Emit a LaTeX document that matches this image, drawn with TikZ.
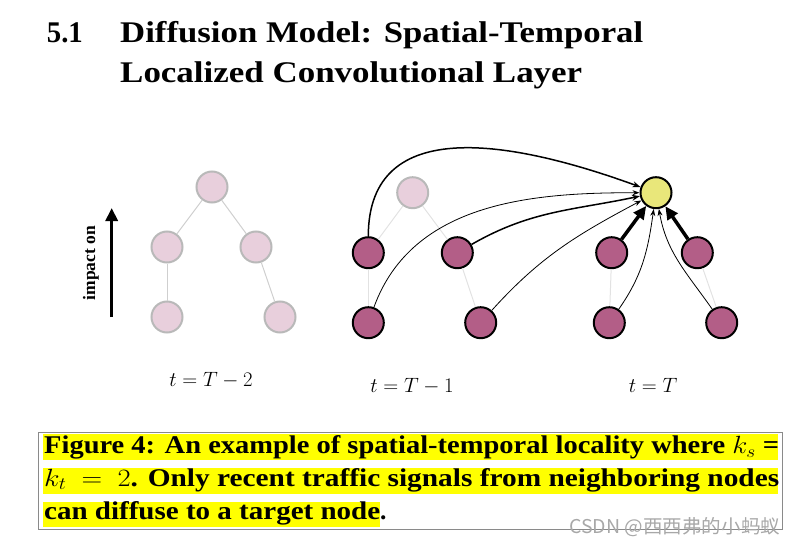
\documentclass[tikz,border=0pt]{standalone}
\usepackage{graphicx}
\usepackage{fontspec}
\setmainfont{Liberation Serif}
\newfontfamily\cjkfont{Noto Sans CJK SC}
\usetikzlibrary{arrows.meta}
\definecolor{palefill}{HTML}{E8CFDC}
\definecolor{paleborder}{HTML}{B9B9B9}
\definecolor{darkfill}{HTML}{B35E87}
\definecolor{targetfill}{HTML}{E9E77A}
\definecolor{linkgray}{HTML}{CFCFCF}
\definecolor{linklight}{HTML}{E2E2E2}
\definecolor{hl}{HTML}{FFFF00}
\definecolor{boxgray}{HTML}{8A8A8A}
\definecolor{wmgray}{HTML}{A8A8A8}
\begin{document}
\begin{tikzpicture}[x=1pt,y=1pt,
  pale/.style={circle, draw=paleborder, fill=palefill, line width=2pt, minimum size=31pt, inner sep=0pt},
  dark/.style={circle, draw=black, fill=darkfill, line width=2pt, minimum size=31pt, inner sep=0pt},
  target/.style={circle, draw=black, fill=targetfill, line width=2pt, minimum size=31pt, inner sep=0pt},
  link/.style={draw=linkgray, line width=1pt},
  linkl/.style={draw=linklight, line width=1pt},
  thinarrow/.style={-{Stealth[length=7pt,width=5pt]}, line width=0.8pt},
  midarrow/.style={-{Stealth[length=8pt,width=6pt]}, line width=1.5pt},
  thickarrow/.style={-{Triangle[length=13pt,width=12pt]}, line width=3.5pt},
  lab/.style={anchor=base, inner sep=0pt, font=\fontsize{22}{22}\selectfont},
  ttl/.style={anchor=base west, inner sep=0pt, font=\bfseries\fontsize{30}{31}\selectfont},
  captext/.style={anchor=base west, inner sep=0pt, font=\bfseries\fontsize{25.5}{26}\selectfont}
]
\useasboundingbox (0,0) rectangle (796,-546);

% title
\node[ttl] (num) at (46.7,-42.3) {\resizebox{36pt}{\height}{5.1}};
\node[ttl] (t1) at (120,-42.3) {\resizebox{523pt}{\height}{Diffusion Model: Spatial-Temporal}};
\node[ttl] (t2) at (120,-82.7) {\resizebox{462pt}{\height}{Localized Convolutional Layer}};

% panel 1
\node[pale] (p1t) at (212,-187) {};
\node[pale] (p1l) at (167,-247) {};
\node[pale] (p1r) at (256,-247) {};
\node[pale] (p1bl) at (167,-317) {};
\node[pale] (p1br) at (280,-317) {};
\draw[link] (p1t) -- (p1l);
\draw[link] (p1t) -- (p1r);
\draw[link] (p1l) -- (p1bl);
\draw[link] (p1r) -- (p1br);

% panel 2
\node[pale] (p2t) at (412.7,-192.7) {};
\node[dark] (p2l) at (368.3,-252.7) {};
\node[dark] (p2r) at (457.3,-252.7) {};
\node[dark] (p2bl) at (368.3,-322.7) {};
\node[dark] (p2br) at (480.7,-322.7) {};
\draw[linkl] (p2t) -- (p2l);
\draw[linkl] (p2t) -- (p2r);
\draw[linkl] (p2l) -- (p2bl);
\draw[linkl] (p2r) -- (p2br);

% panel 3
\node[target] (y) at (656,-192.7) {};
\node[dark] (p3l) at (611.7,-252.7) {};
\node[dark] (p3r) at (697.3,-252.7) {};
\node[dark] (p3bl) at (609.3,-322.7) {};
\node[dark] (p3br) at (721.7,-322.7) {};
\draw[linkl] (p3l) -- (p3bl);
\draw[linkl] (p3r) -- (p3br);

% arrows to target
\draw[midarrow] (p2l) .. controls +(90:140) and +(160:150) .. (y);
\draw[thinarrow] (p2bl) .. controls +(70:130) and +(180:120) .. (y);
\draw[midarrow] (p2r) to[out=30,in=192] (y);
\draw[thinarrow] (p2br) to[out=48,in=208] (y);
\draw[thickarrow] (p3l) -- (y);
\draw[thickarrow] (p3r) -- (y);
\draw[thinarrow] (p3bl) to[out=55,in=-98] (y);
\draw[thinarrow] (p3br) to[out=125,in=-80] (y);

% impact arrow
\coordinate (ia) at (111.7,-317);
\coordinate (ib) at (111.7,-208);
\draw[thickarrow] (ia) -- (ib);
\node[rotate=90, inner sep=0pt, font=\bfseries\fontsize{17.5}{17.5}\selectfont] (imp) at (91,-263) {impact on};

% time labels
\node[lab] (l1) at (211,-386.7) {$t = T - 2$};
\node[lab] (l2) at (412,-392) {$t = T - 1$};
\node[lab] (l3) at (653,-392) {$t = T$};

% caption
\draw[boxgray, line width=1pt] (38,-432) rectangle (782,-529);
\fill[hl] (43.3,-434) rectangle (778,-459.5);
\fill[hl] (43.3,-468) rectangle (778,-494);
\fill[hl] (43.3,-502) rectangle (380,-527);
\node[captext] (c1) at (44,-453.3) {\resizebox{735pt}{\height}{Figure 4: An example of spatial-temporal locality where $k_s$ =}};
\node[captext] (c2) at (44,-486) {\resizebox{735pt}{\height}{$k_t\ =\ 2$. Only recent traffic signals from neighboring nodes}};
\node[captext] (c3) at (44,-519.3) {\resizebox{336pt}{\height}{can diffuse to a target node}.};

% watermark
\node[anchor=base west, inner sep=0pt, text=wmgray] (wm) at (569,-533) {\resizebox{211pt}{\height}{\cjkfont\fontsize{19}{19}\selectfont CSDN @西西弗的小蚂蚁}};
\end{tikzpicture}
\end{document}
